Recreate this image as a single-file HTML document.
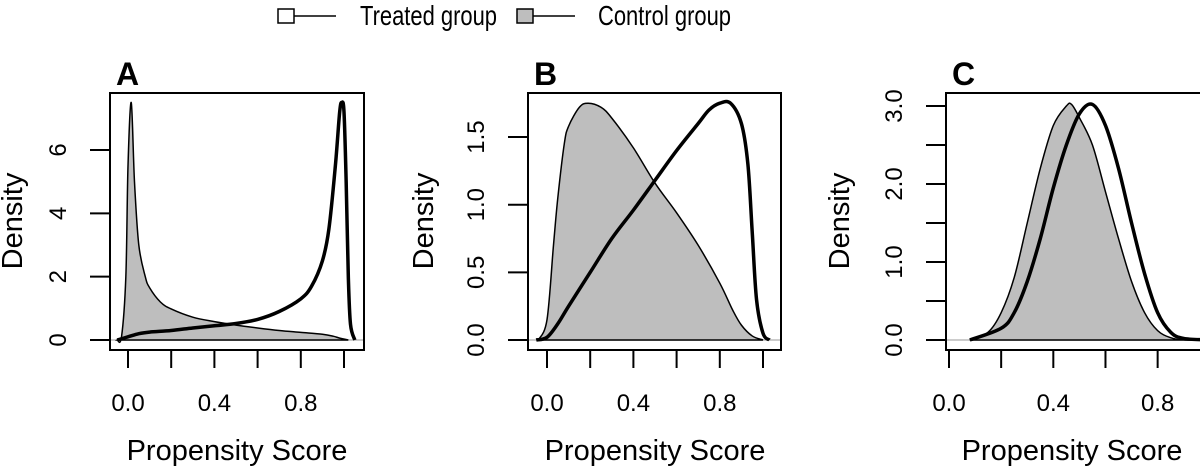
<!DOCTYPE html>
<html><head><meta charset="utf-8">
<style>
body{margin:0;background:#fff;}
svg{display:block;font-family:"Liberation Sans",sans-serif;}
</style></head>
<body>
<svg id="chart" width="1200" height="466" viewBox="0 0 1200 466">
<g>
  <rect x="278" y="9" width="16" height="14" fill="#fff" stroke="#000" stroke-width="1.5"/>
  <line x1="294" y1="16" x2="336" y2="16" stroke="#000" stroke-width="1.5"/>
  <text x="360" y="25" font-size="28" textLength="137" lengthAdjust="spacingAndGlyphs">Treated group</text>
  <rect x="517" y="9" width="16" height="14" fill="#bebebe" stroke="#000" stroke-width="1.5"/>
  <line x1="533" y1="16" x2="575" y2="16" stroke="#000" stroke-width="1.5"/>
  <text x="598" y="25" font-size="28" textLength="133" lengthAdjust="spacingAndGlyphs">Control group</text>
</g>
<g id="panels"></g>
</svg>
<script>
// Panel A data
const aControlX = [-0.05,-0.03,-0.01,0.0,0.015,0.03,0.05,0.08,0.1,0.15,0.2,0.3,0.4,0.5,0.6,0.7,0.8,0.9,0.95,0.98,1.02];
const aControlY = [0,0.1,2,5.5,7.5,5.0,3.0,2.0,1.65,1.2,0.98,0.72,0.58,0.47,0.38,0.3,0.24,0.18,0.12,0.06,0];
const aTreatedX = [-0.05,0,0.05,0.1,0.2,0.3,0.4,0.5,0.6,0.7,0.8,0.85,0.9,0.93,0.96,0.98,0.99,1.0,1.01,1.02,1.03,1.05];
const aTreatedY = [0,0.1,0.2,0.25,0.3,0.38,0.45,0.52,0.65,0.9,1.3,1.7,2.5,3.5,5.5,7.2,7.5,7.2,5,2,0.5,0];
// Panel B data
const bControlX = [-0.04,0,0.03,0.05,0.08,0.1,0.15,0.19,0.25,0.3,0.4,0.5,0.6,0.7,0.8,0.86,0.9,0.95,1.0];
const bControlY = [0,0.15,0.7,1.05,1.45,1.58,1.72,1.75,1.72,1.64,1.42,1.16,0.94,0.7,0.42,0.22,0.11,0.03,0];
const bTreatedX = [-0.05,0,0.05,0.1,0.2,0.3,0.4,0.5,0.6,0.7,0.75,0.8,0.85,0.9,0.93,0.95,0.97,1.0,1.03];
const bTreatedY = [0,0.02,0.12,0.25,0.5,0.75,0.96,1.18,1.4,1.6,1.7,1.75,1.75,1.6,1.3,0.8,0.3,0.05,0];
// Panel C data
const cControlX = [0.08,0.15,0.2,0.25,0.3,0.35,0.4,0.45,0.47,0.5,0.55,0.6,0.65,0.7,0.75,0.8,0.85,0.9,1.0];
const cControlY = [0,0.1,0.35,0.8,1.5,2.2,2.75,3.0,3.02,2.85,2.5,1.9,1.3,0.75,0.35,0.12,0.03,0,0];
const cTreatedX = [0.08,0.2,0.25,0.3,0.35,0.4,0.45,0.5,0.55,0.6,0.65,0.7,0.75,0.8,0.85,0.9,1.0];
const cTreatedY = [0,0.15,0.35,0.75,1.3,1.95,2.5,2.9,3.02,2.75,2.2,1.5,0.85,0.35,0.1,0.02,0];
// Tick labels
const aXTicks = [0,0.2,0.4,0.6,0.8,1.0];
const aXLabels = ["0.0","","0.4","","0.8",""];
const aYTicks = [0,2,4,6];
const aYLabels = ["0","2","4","6"];
const bYTicks = [0,0.5,1.0,1.5];
const bYLabels = ["0.0","0.5","1.0","1.5"];
const cXTicks = [0,0.2,0.4,0.6,0.8];
const cXLabels = ["0.0","","0.4","","0.8"];
const cYTicks = [0,0.5,1,1.5,2,2.5,3];
const cYLabels = ["0.0","","1.0","","2.0","","3.0"];

const NS = "http://www.w3.org/2000/svg";
const root = document.getElementById('panels');
function mk(tag, attrs, parent){const e=document.createElementNS(NS,tag);for(const k in attrs)e.setAttribute(k,attrs[k]);parent.appendChild(e);return e;}
function smooth(pts){
  let d="M"+pts[0][0]+","+pts[0][1];
  for(let i=0;i<pts.length-1;i++){
    const p0=pts[Math.max(0,i-1)],p1=pts[i],p2=pts[i+1],p3=pts[Math.min(pts.length-1,i+2)];
    const c1=[p1[0]+(p2[0]-p0[0])/6,p1[1]+(p2[1]-p0[1])/6];
    const c2=[p2[0]-(p3[0]-p1[0])/6,p2[1]-(p3[1]-p1[1])/6];
    d+=" C"+c1[0]+","+c1[1]+" "+c2[0]+","+c2[1]+" "+p2[0]+","+p2[1];
  }
  return d;
}
function panel(cfg){
  const g=mk('g',{},root);
  
  
  const sx=v=>cfg.x0+v*cfg.kx, sy=v=>cfg.y0-v*cfg.ky;
  const cp=mk('clipPath',{id:'clip'+cfg.id},g);
  mk('rect',{x:cfg.bx1,y:93,width:cfg.bx2-cfg.bx1,height:257},cp);
  const plot=mk('g',{'clip-path':'url(#clip'+cfg.id+')'},g);
  mk('line',{x1:cfg.bx1,y1:sy(0),x2:cfg.bx2,y2:sy(0),stroke:'#bbb','stroke-width':1.5},plot);
  const cp1=cfg.cx.map((x,i)=>[sx(x),sy(cfg.cy[i])]);
  const area=mk('path',{d:smooth(cp1)+" Z",fill:'#bebebe',stroke:'#000','stroke-width':1.5},plot);
  
  
  const tp=cfg.tx.map((x,i)=>[sx(x),sy(cfg.ty[i])]);
  const line=mk('path',{d:smooth(tp),fill:'none',stroke:'#000','stroke-width':3.5,'stroke-linejoin':'round'},plot);
  
  
  const box=mk('rect',{x:cfg.bx1,y:93,width:cfg.bx2-cfg.bx1,height:257,fill:'none',stroke:'#000','stroke-width':2},g);
  
  
  cfg.xt.forEach((t,i)=>{
    mk('line',{x1:sx(t),y1:350,x2:sx(t),y2:368,stroke:'#000','stroke-width':2},g);
    if(cfg.xl[i]){const tx=mk('text',{x:sx(t),y:411,'font-size':24,'text-anchor':'middle'},g);tx.textContent=cfg.xl[i];
      
      }
  });
  cfg.yt.forEach((t,i)=>{
    mk('line',{x1:cfg.bx1-20,y1:sy(t),x2:cfg.bx1,y2:sy(t),stroke:'#000','stroke-width':2},g);
    if(cfg.yl[i]){const tx=mk('text',{x:0,y:0,'font-size':24,'text-anchor':'middle',transform:`translate(${cfg.bx1-44},${sy(t)}) rotate(-90)`},g);tx.textContent=cfg.yl[i];
      
      }
  });
  const xt=mk('text',{x:cfg.xtc,y:460,'font-size':29,'text-anchor':'middle'},g);
  xt.textContent='Propensity Score';
  
  
  const yt=mk('text',{x:0,y:0,'font-size':29,'text-anchor':'middle',transform:`translate(${cfg.ytx},221) rotate(-90)`},g);
  yt.textContent='Density';
  
  
  const pt=mk('text',{x:cfg.bx1+6,y:85,'font-size':32,'font-weight':'bold'},g);
  pt.textContent=cfg.id;
  
  
}
panel({id:'A',bx1:110,bx2:364,x0:128,kx:216,y0:340,ky:31.67,cx:aControlX,cy:aControlY,tx:aTreatedX,ty:aTreatedY,xt:aXTicks,xl:aXLabels,yt:aYTicks,yl:aYLabels,ytx:22,xtc:237});
panel({id:'B',bx1:528,bx2:781,x0:547,kx:216,y0:340,ky:135.3,cx:bControlX,cy:bControlY,tx:bTreatedX,ty:bTreatedY,xt:aXTicks,xl:aXLabels,yt:bYTicks,yl:bYLabels,ytx:433,xtc:655});
panel({id:'C',bx1:946,bx2:1201,x0:949,kx:260.8,y0:340,ky:78,cx:cControlX,cy:cControlY,tx:cTreatedX,ty:cTreatedY,xt:cXTicks,xl:cXLabels,yt:cYTicks,yl:cYLabels,ytx:849,xtc:1072});
</script>
</body></html>
